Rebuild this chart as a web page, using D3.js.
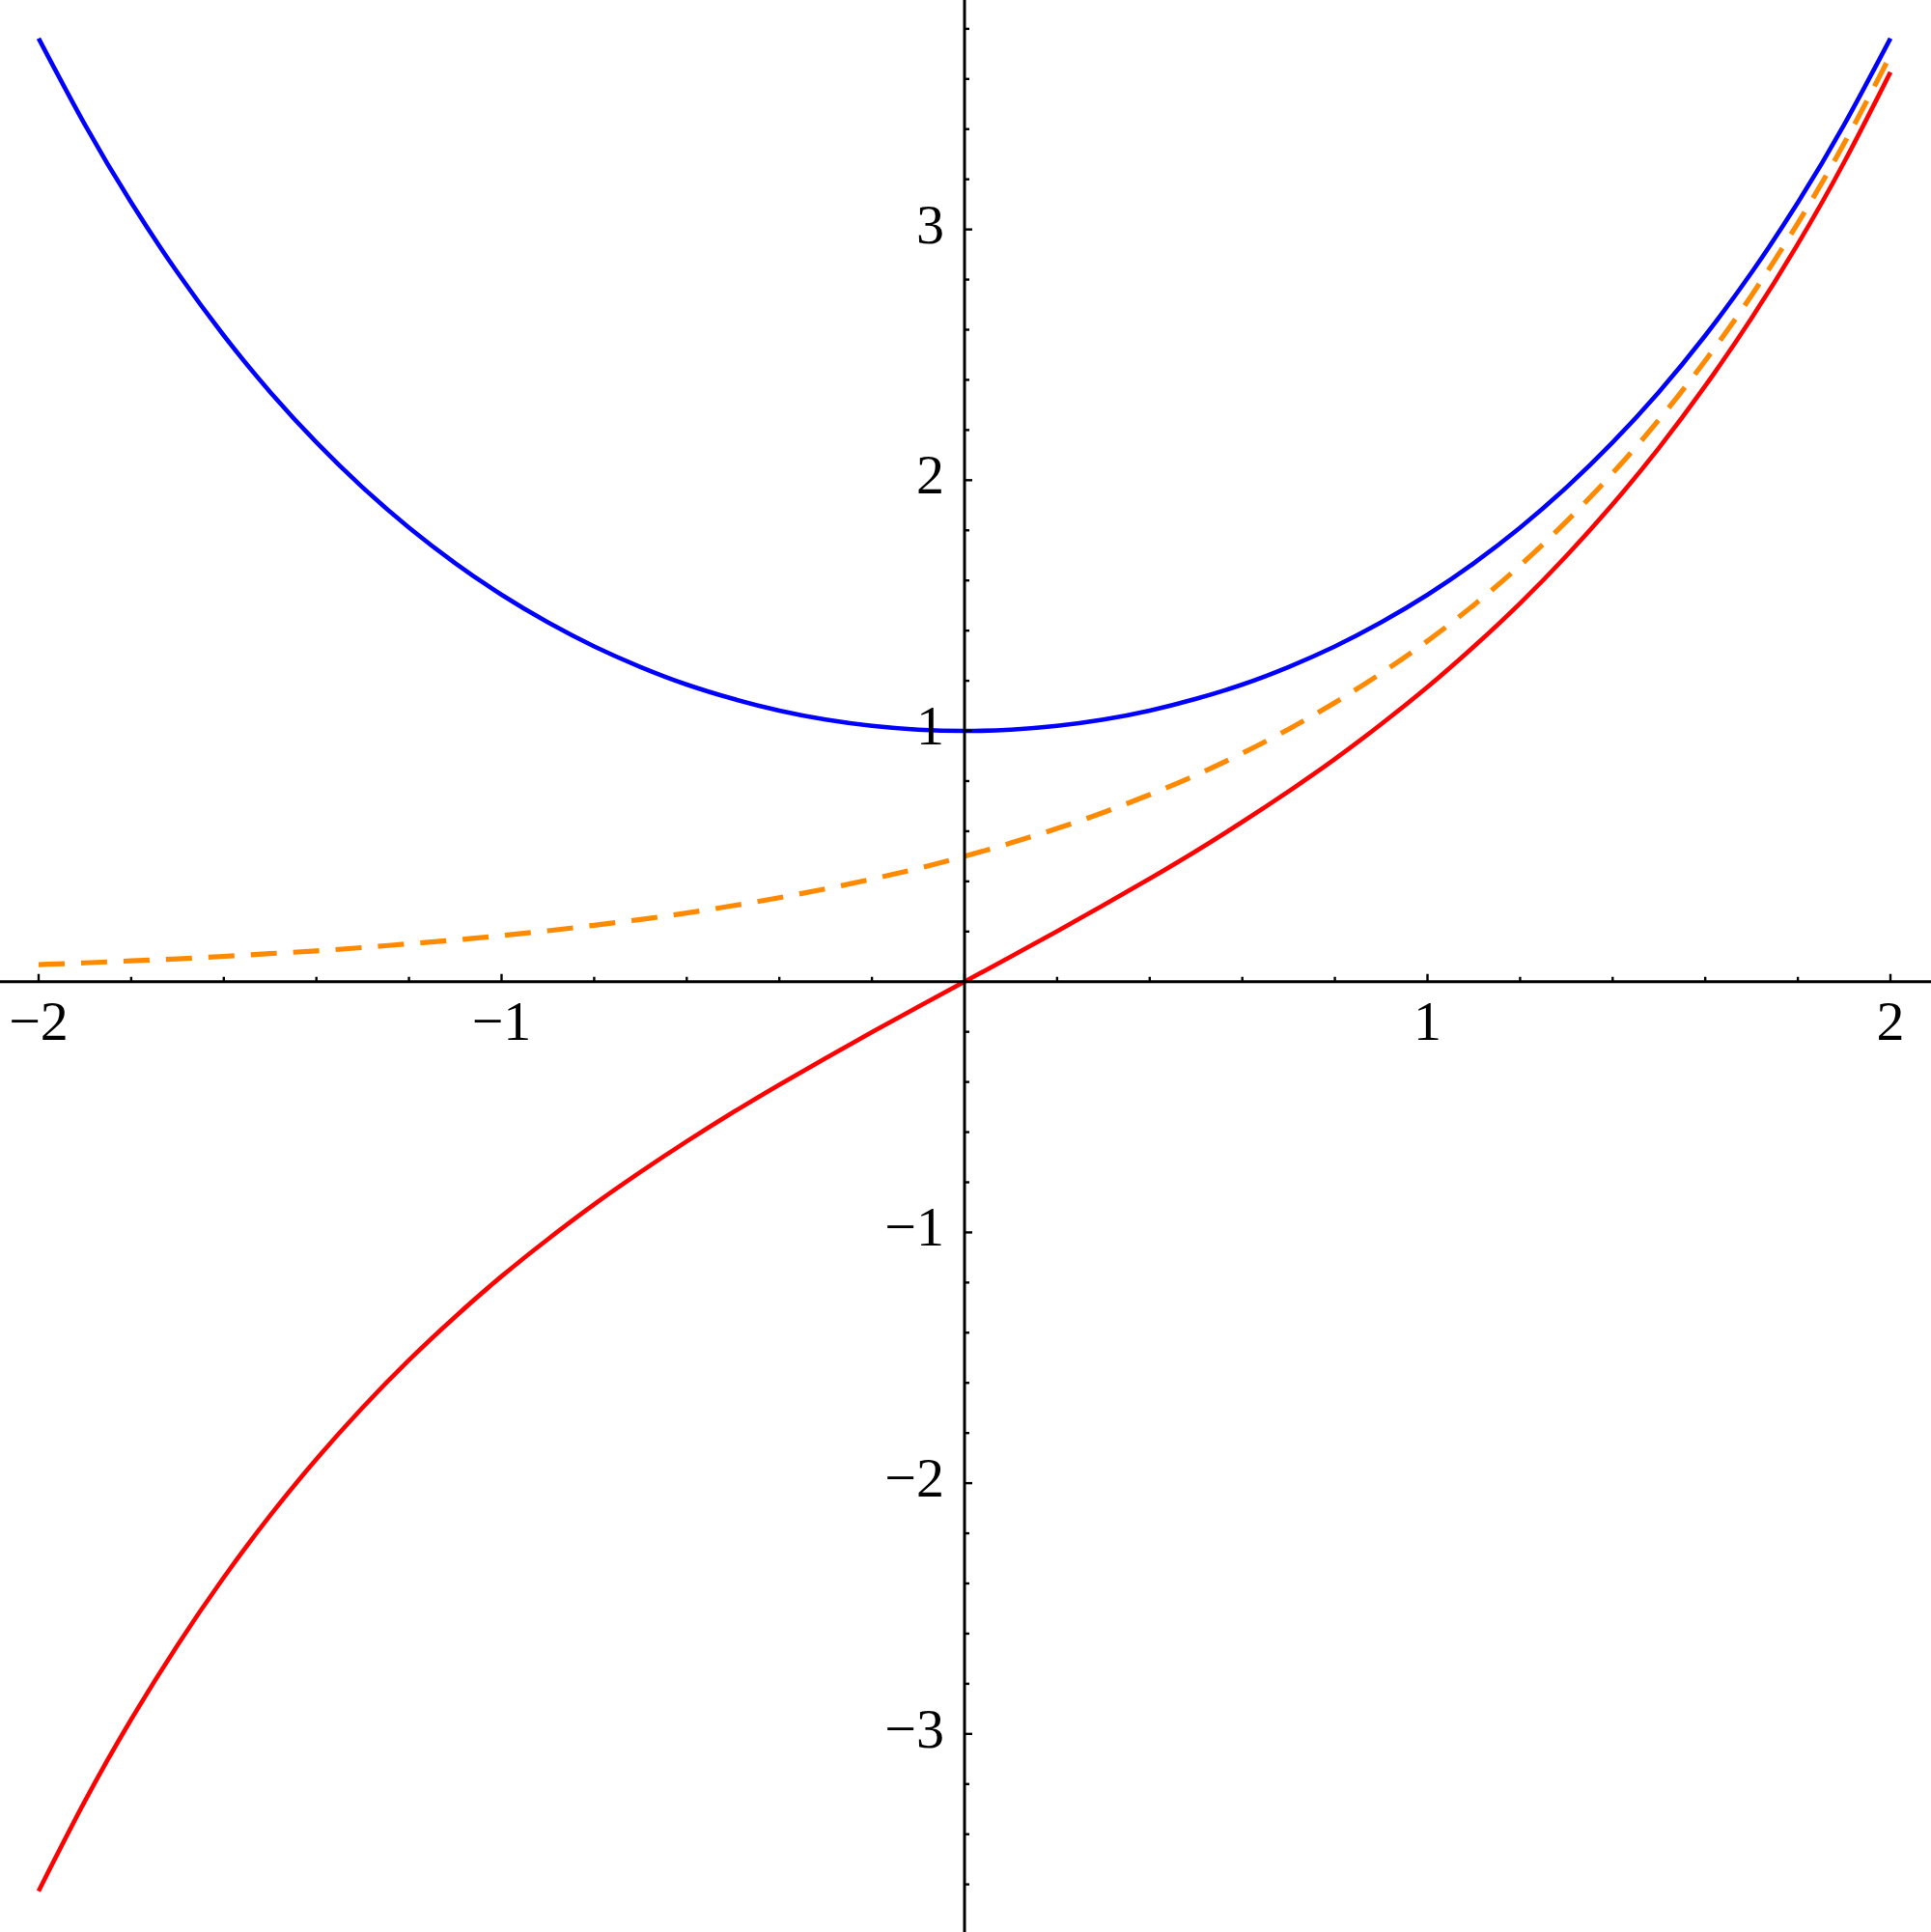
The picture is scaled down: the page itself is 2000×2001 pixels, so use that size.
<!DOCTYPE html>
<html>
<head>
<meta charset="utf-8">
<script src="https://cdn.jsdelivr.net/npm/d3@7"></script>
<style>
  html, body { margin: 0; padding: 0; background: #fff; }
  svg { display: block; }
  .tick-label { font-family: "Liberation Serif", "DejaVu Serif", serif; font-size: 58px; fill: #000; }
</style>
</head>
<body>
<svg id="chart"></svg>
<script>
// x positions sampled along the curves
const xs = [-2.0, -1.9, -1.8, -1.7, -1.6, -1.5, -1.4, -1.3, -1.2, -1.1, -1.0,
            -0.9, -0.8, -0.7, -0.6, -0.5, -0.4, -0.3, -0.2, -0.1, 0.0,
             0.1,  0.2,  0.3,  0.4,  0.5,  0.6,  0.7,  0.8,  0.9, 1.0,
             1.1,  1.2,  1.3,  1.4,  1.5,  1.6,  1.7,  1.8,  1.9, 2.0];

// blue solid curve
const blueVals = [3.762, 3.418, 3.107, 2.828, 2.577, 2.352, 2.151, 1.971, 1.811, 1.669, 1.543,
                  1.433, 1.337, 1.255, 1.185, 1.128, 1.081, 1.045, 1.020, 1.005, 1.000,
                  1.005, 1.020, 1.045, 1.081, 1.128, 1.185, 1.255, 1.337, 1.433, 1.543,
                  1.669, 1.811, 1.971, 2.151, 2.352, 2.577, 2.828, 3.107, 3.418, 3.762];

// red solid curve
const redVals = [-3.627, -3.268, -2.942, -2.646, -2.376, -2.129, -1.904, -1.698, -1.509, -1.336, -1.175,
                 -1.027, -0.888, -0.759, -0.637, -0.521, -0.411, -0.305, -0.201, -0.100, 0.000,
                  0.100,  0.201,  0.305,  0.411,  0.521,  0.637,  0.759,  0.888,  1.027, 1.175,
                  1.336,  1.509,  1.698,  1.904,  2.129,  2.376,  2.646,  2.942,  3.268, 3.627];

// orange dashed curve
const orangeVals = [0.068, 0.075, 0.083, 0.091, 0.101, 0.112, 0.123, 0.136, 0.151, 0.166, 0.184,
                    0.203, 0.225, 0.248, 0.274, 0.303, 0.335, 0.370, 0.409, 0.452, 0.500,
                    0.553, 0.611, 0.675, 0.746, 0.824, 0.911, 1.007, 1.113, 1.230, 1.359,
                    1.502, 1.660, 1.835, 2.028, 2.241, 2.477, 2.737, 3.025, 3.343, 3.695];

const xTickLabels = [-2, -1, 1, 2];
const yTickLabels = [-3, -2, -1, 1, 2, 3];

const W = 2000, H = 2001;

const svg = d3.select("#chart").attr("width", W).attr("height", H);
svg.append("rect").attr("width", W).attr("height", H).attr("fill", "#fff");

const x = d3.scaleLinear().domain([-2.0834, 2.0876]).range([0, W]);
const y = d3.scaleLinear().domain([-3.790, 3.915]).range([H, 0]);

const series = [
  { vals: blueVals, color: "#0000ff", dash: null, width: 4.6 },
  { vals: redVals, color: "#ff0000", dash: null, width: 4.6 },
  { vals: orangeVals, color: "#ff8a00", dash: "27,17", width: 5.2 }
];

const line = d3.line()
  .x(d => x(d[0]))
  .y(d => y(d[1]))
  .curve(d3.curveNatural);

const curves = svg.append("g");
series.forEach(s => {
  curves.append("path")
    .datum(xs.map((v, i) => [v, s.vals[i]]))
    .attr("fill", "none")
    .attr("stroke", s.color)
    .attr("stroke-width", s.width)
    .attr("stroke-dasharray", s.dash)
    .attr("stroke-linecap", "butt")
    .attr("d", line);
});

// axes through the origin
const x0 = x(0), y0 = y(0);
const axes = svg.append("g").attr("stroke", "#000");
axes.append("line").attr("x1", 0).attr("x2", W).attr("y1", y0).attr("y2", y0).attr("stroke-width", 3);
axes.append("line").attr("x1", x0).attr("x2", x0).attr("y1", 0).attr("y2", H).attr("stroke-width", 3);

// ticks: major at integers, minor every 0.2
const xTicks = d3.range(-20, 21, 2).map(v => v / 10);
axes.selectAll(".xt").data(xTicks).join("line").attr("class", "xt")
  .attr("x1", d => x(d)).attr("x2", d => x(d))
  .attr("y1", y0).attr("y2", d => y0 - (Number.isInteger(d) ? 8 : 5))
  .attr("stroke-width", 2.4);

const yTicks = d3.range(-36, 40, 2).map(v => v / 10);
axes.selectAll(".yt").data(yTicks).join("line").attr("class", "yt")
  .attr("y1", d => y(d)).attr("y2", d => y(d))
  .attr("x1", x0).attr("x2", d => x0 + (Number.isInteger(d) ? 8 : 5))
  .attr("stroke-width", 2.4);

const fmt = d => (d < 0 ? "\u2212" : "") + Math.abs(d);

svg.selectAll(".xl").data(xTickLabels).join("text")
  .attr("class", "tick-label xl")
  .attr("x", d => x(d))
  .attr("y", y0 + 60)
  .attr("text-anchor", "middle")
  .text(fmt);

svg.selectAll(".yl").data(yTickLabels).join("text")
  .attr("class", "tick-label yl")
  .attr("x", x0 - 21)
  .attr("y", d => y(d) + 14)
  .attr("text-anchor", "end")
  .text(fmt);
</script>
</body>
</html>
